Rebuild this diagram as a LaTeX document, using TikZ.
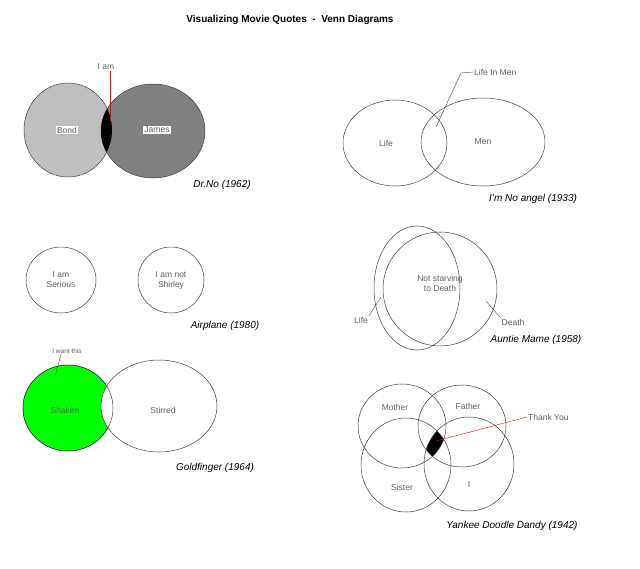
\documentclass[tikz,border=0pt]{standalone}
\usepackage{fontspec}
\setmainfont{Liberation Sans}
\definecolor{labelgray}{HTML}{606060}
\definecolor{venngreen}{HTML}{00FF00}
\tikzset{
	set/.style={draw=black!75, line width=0.5pt},
	lbl/.style={text=labelgray, font=\fontsize{8.5}{10}\selectfont, align=center, inner sep=1pt},
	movie/.style={font=\fontsize{10}{12}\selectfont\itshape},
	pointer/.style={red, line width=0.6pt},
	leader/.style={black!70, line width=0.4pt}
}
\begin{document}
\begin{tikzpicture}[x=1pt, y=-1pt]
	\useasboundingbox (0,0) rectangle (640,568);
	% Titel
	\node[font=\fontsize{10}{12}\selectfont\bfseries] (title) at (290,20) {Visualizing Movie Quotes\ \ -\ \ Venn Diagrams};
	% Dr.No
	\filldraw[set, fill=black!25] (68,130) ellipse (44 and 47);
	\filldraw[set, fill=black!50] (153,131) ellipse (52 and 47);
	\begin{scope}
		\clip (68,130) ellipse (44 and 47);
		\fill[black] (153,131) ellipse (52 and 47);
	\end{scope}
	\node[lbl, fill=white] (bond) at (67,130) {Bond};
	\node[lbl, fill=white] (james) at (157,130) {James};
	\node[lbl] (iam) at (106,67) {I am};
	\coordinate (iamend) at (110,121);
	\draw[pointer] (iam.south -| iamend) -- (iamend);
	\node[movie] (drno) at (222,185) {Dr.No (1962)};
	% I'm No angel
	\draw[set] (395,143) ellipse (52 and 43);
	\draw[set] (483,142) ellipse (62 and 44);
	\node[lbl] (life) at (386,143) {Life};
	\node[lbl] (men) at (483,142) {Men};
	\node[lbl, anchor=west] (lifeinmen) at (473,72) {Life In Men};
	\coordinate (lifeinmenend) at (436,127);
	\draw[leader] (lifeinmen.west) -- ++(-12,1) -- (lifeinmenend);
	\node[movie] (angel) at (533,199) {I'm No angel (1933)};
	% Airplane
	\draw[set] (61,280) ellipse (35 and 33);
	\draw[set] (171,280) ellipse (33 and 33);
	\node[lbl] (serious) at (61,280) {I am\\Serious};
	\node[lbl] (shirley) at (171,280) {I am not\\Shirley};
	\node[movie] (airplane) at (225,326) {Airplane (1980)};
	% Auntie Mame
	\draw[set] (417,288) ellipse (43 and 62);
	\draw[set] (440,289) ellipse (57 and 57);
	\node[lbl] (notstarving) at (440,283) {Not starving\\to Death};
	\node[lbl] (life2) at (361,320) {Life};
	\node[lbl] (death) at (513,322) {Death};
	\coordinate (lifeend) at (381,297);
	\coordinate (deathend) at (486,301);
	\draw[leader] (life2.north east) -- (lifeend);
	\draw[leader] (death.north west) -- (deathend);
	\node[movie] (mame) at (536,340) {Auntie Mame (1958)};
	% Goldfinger
	\filldraw[set, fill=venngreen] (68,408) ellipse (45 and 43);
	\filldraw[set, fill=white] (159,406) ellipse (58 and 46);
	\draw[set] (68,408) ellipse (45 and 43);
	\node[lbl] (shaken) at (65,410) {Shaken};
	\node[lbl] (stirred) at (163,410) {Stirred};
	\node[lbl, font=\fontsize{6.5}{8}\selectfont] (want) at (67,351) {I want this};
	\coordinate (wantend) at (55,376);
	\draw[leader] (want.south) ++(-6,0) -- (wantend);
	\node[movie] (goldfinger) at (215,468) {Goldfinger (1964)};
	% Yankee Doodle Dandy
	\begin{scope}
		\clip (402,426) ellipse (44 and 42);
		\clip (462,426) ellipse (44 and 41);
		\clip (406,465) ellipse (45 and 47);
		\fill[black] (469,464) ellipse (45 and 47);
	\end{scope}
	\draw[set] (402,426) ellipse (44 and 42);
	\draw[set] (462,426) ellipse (44 and 41);
	\draw[set] (406,465) ellipse (45 and 47);
	\draw[set] (469,464) ellipse (45 and 47);
	\node[lbl] (mother) at (395,407) {Mother};
	\node[lbl] (father) at (468,406) {Father};
	\node[lbl] (sister) at (402,487) {Sister};
	\node[lbl] (me) at (469,485) {I};
	\node[lbl, anchor=west] (thanks) at (527,417) {Thank You};
	\coordinate (thanksend) at (436,441);
	\draw[pointer, line width=0.4pt] (thanks.west) -- (thanksend);
	\node[movie] (yankee) at (512,526) {Yankee Doodle Dandy (1942)};
\end{tikzpicture}
\end{document}
